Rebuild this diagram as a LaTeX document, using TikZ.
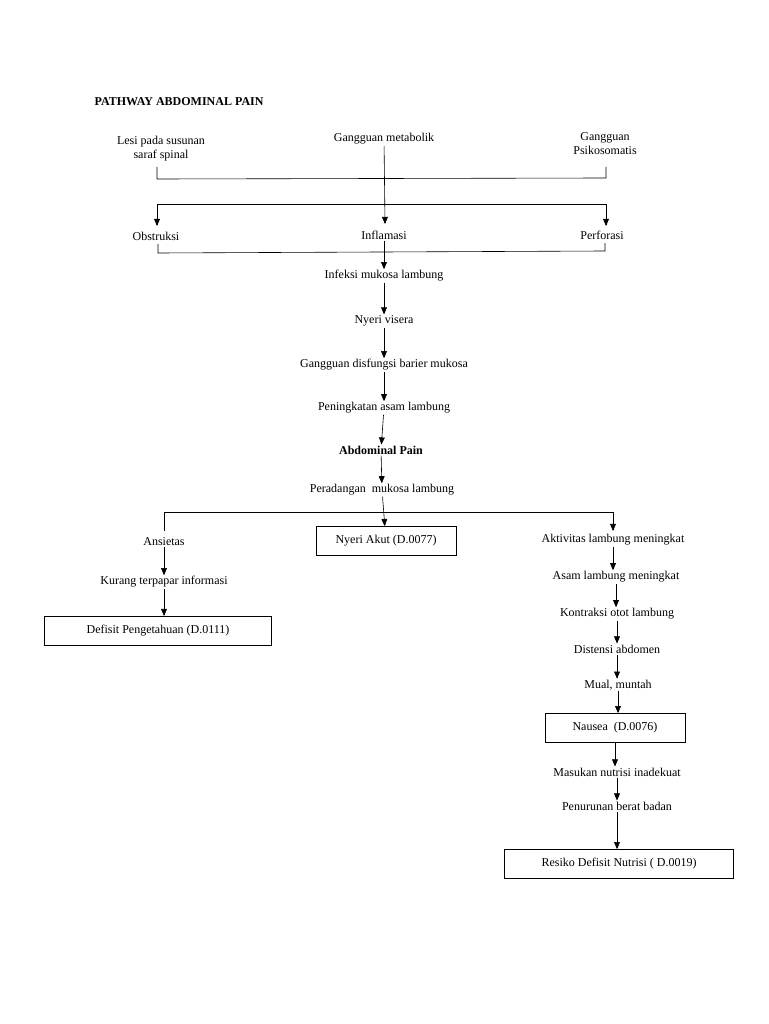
\documentclass[tikz,border=0pt]{standalone}
\usepackage{fontspec}
\setmainfont{Liberation Serif}
\usetikzlibrary{arrows}
\begin{document}
\begin{tikzpicture}[x=1pt,y=-1pt,->,>=triangle 45,semithick,
                    font=\fontsize{12}{14}\selectfont]
  \tikzstyle{txt}=[align=center,inner sep=1pt]
  \tikzstyle{box}=[draw,thick,minimum height=29pt]
  \useasboundingbox (0,0) rectangle (768,1024);

  \node[anchor=west,font=\fontsize{12}{14}\selectfont\bfseries] (T) at (91,102) {PATHWAY ABDOMINAL PAIN};
  \node[txt]  (L)   at (161,149) {Lesi pada susunan\\saraf spinal};
  \node[txt]  (G)   at (384,139) {Gangguan metabolik};
  \node[txt]  (P)   at (605,144) {Gangguan\\Psikosomatis};
  \node[txt]  (O)   at (156,236) {Obstruksi};
  \node[txt]  (I)   at (384,235) {Inflamasi};
  \node[txt]  (F)   at (602,235) {Perforasi};
  \node[txt]  (IM)  at (384,276) {Infeksi mukosa lambung};
  \node[txt]  (NV)  at (384,321) {Nyeri visera};
  \node[txt]  (GD)  at (384,365) {Gangguan disfungsi barier mukosa};
  \node[txt]  (PA)  at (384,408) {Peningkatan asam lambung};
  \node[txt,font=\fontsize{12}{14}\selectfont\bfseries] (AP) at (381,450) {Abdominal Pain};
  \node[txt]  (PM)  at (382,490) {Peradangan\ \ mukosa lambung};
  \node[box,minimum width=140pt] (NA) at (386,541) {Nyeri Akut (D.0077)};
  \node[txt]  (AN)  at (164,542) {Ansietas};
  \node[txt]  (KT)  at (164,582) {Kurang terpapar informasi};
  \node[box,minimum width=227pt] (DP) at (158,631) {Defisit Pengetahuan (D.0111)};
  \node[txt]  (AL)  at (613,540) {Aktivitas lambung meningkat};
  \node[txt]  (AS)  at (616,577) {Asam lambung meningkat};
  \node[txt]  (KO)  at (617,614) {Kontraksi otot lambung};
  \node[txt]  (DA)  at (617,649) {Distensi abdomen};
  \node[txt]  (MM)  at (618,685) {Mual, muntah};
  \node[box,minimum width=140pt] (NS) at (615,728) {Nausea\ \ (D.0076)};
  \node[txt]  (MN)  at (617,772) {Masukan nutrisi inadekuat};
  \node[txt]  (PB)  at (617,806) {Penurunan berat badan};
  \node[box,minimum width=229pt] (RD) at (619,864) {Resiko Defisit Nutrisi ( D.0019)};

  % brackets at the top
  \draw[-] (157,167) -- (157,179) -- (606,178) -- (606,167);
  \draw (G) -- (385,224);
  \draw (157,213) |- (606,204) -- (606,226);
  \draw (157,204) -- (157,226);
  \draw[-] (158,244) -- (158,253) -- (605,251) -- (605,243);
  \draw (I) -- (IM);
  \draw (IM) -- (NV);
  \draw (NV) -- (GD);
  \draw (GD) -- (PA);
  \draw (PA) -- (AP);
  \draw (AP) -- (PM);
  \draw (PM) -- (NA);
  \draw (164,531) |- (613,512) -- (613,531);
  \draw (AN) -- (KT);
  \draw (KT) -- (164,616);
  \foreach \a/\b in {AL/AS,AS/KO,KO/DA,DA/MM,MM/NS,NS/MN,MN/PB,PB/RD}
    \draw (\a) -- (\a|-\b.north);
\end{tikzpicture}
\end{document}
